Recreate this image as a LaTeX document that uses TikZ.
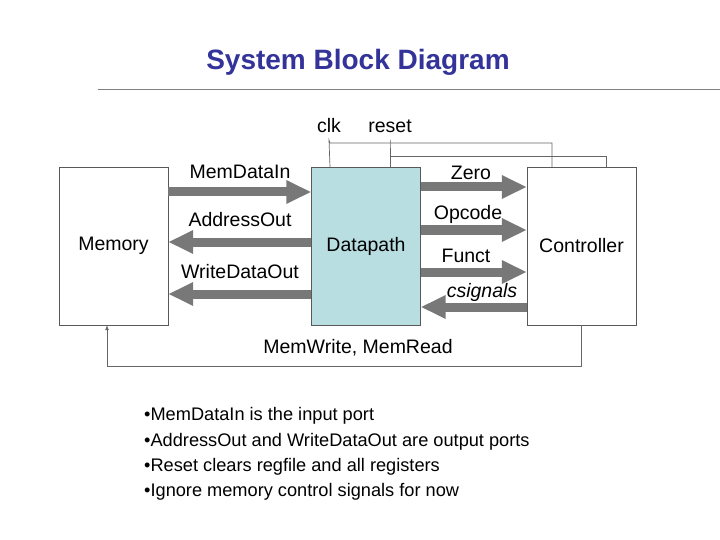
\documentclass[tikz,border=0pt]{standalone}
\usepackage{fontspec}
\setmainfont{Liberation Sans}
\usetikzlibrary{arrows.meta, positioning}
\definecolor{titel}{RGB}{51, 51, 153}
\definecolor{dpblau}{RGB}{184, 222, 226}
\definecolor{busgrau}{RGB}{120, 120, 120}
\tikzset{
    blk/.style={draw=gray!70!black, minimum width=109pt, minimum height=158pt, inner sep=0pt, font=\fontsize{19.5}{22}\selectfont},
    bus/.style={-{Triangle[length=25pt,width=22pt]}, line width=9pt, busgrau},
    lbl/.style={font=\fontsize{19.5}{22}\selectfont, inner sep=0pt},
    wire/.style={draw=gray!80!black, line width=0.7pt},
}
\begin{document}
\begin{tikzpicture}[x=1pt, y=-1pt]
    \useasboundingbox (0,0) rectangle (720,540);

    \node [text=titel, font=\fontsize{28}{32}\selectfont\bfseries] (title) at (358,62) {System Block Diagram};
    \draw [gray, line width=1pt] (98,90) -- (720,90);

    \node [blk] (mem) at (113.5,246) {Memory};
    \node [blk, fill=dpblau] (dp) at (366,246) {Datapath};
    \node [blk] (ctrl) at (581.5,246) {Controller};

    \draw [bus] ([yshift=54pt]mem.east) -- ([yshift=54pt]dp.west);
    \draw [bus] ([yshift=4pt]dp.west) -- ([yshift=4pt]mem.east);
    \draw [bus] ([yshift=-48pt]dp.west) -- ([yshift=-48pt]mem.east);

    \draw [bus] ([yshift=59pt]dp.east) -- ([yshift=59pt]ctrl.west);
    \draw [bus] ([yshift=16pt]dp.east) -- ([yshift=16pt]ctrl.west);
    \draw [bus] ([yshift=-26pt]dp.east) -- ([yshift=-26pt]ctrl.west);
    \draw [bus] ([yshift=-61pt]ctrl.west) -- ([yshift=-61pt]dp.east);

    \node [lbl] (mdi) at (240,172) {MemDataIn};
    \node [lbl] (ao) at (240,220) {AddressOut};
    \node [lbl] (wdo) at (240,272) {WriteDataOut};
    \node [lbl] (zero) at (471,173) {Zero};
    \node [lbl] (opc) at (468,214) {Opcode};
    \node [lbl] (fun) at (466,256) {Funct};
    \node [lbl, font=\fontsize{19.5}{22}\selectfont\itshape] (csig) at (482,292) {csignals};

    \node [lbl] (clk) at (329,126) {clk};
    \node [lbl] (rst) at (390,126) {reset};
    \coordinate (clkin) at (330,167);
    \coordinate (rstin) at (390,167);
    \draw [wire] (clkin) -- (clk.south |- 0,140) -- (330,143) -- (552,143) -- (552,167);
    \draw [wire] (rstin) -- (390,140) -- (390,156) -- (606,156) -- (606,167);

    \draw [wire, -{Latex[length=5pt,width=4pt]}] (ctrl.south) -- (ctrl.south |- 0,366) -- (107,366) -- (mem.south -| 107,0);
    \node [lbl] (mwmr) at (358,348) {MemWrite, MemRead};

    \node [lbl, anchor=west, align=left, font=\fontsize{18.2}{25.3}\selectfont] (notes) at (144,454) {%
        •MemDataIn is the input port\\
        •AddressOut and WriteDataOut are output ports\\
        •Reset clears regfile and all registers\\
        •Ignore memory control signals for now};
\end{tikzpicture}
\end{document}
